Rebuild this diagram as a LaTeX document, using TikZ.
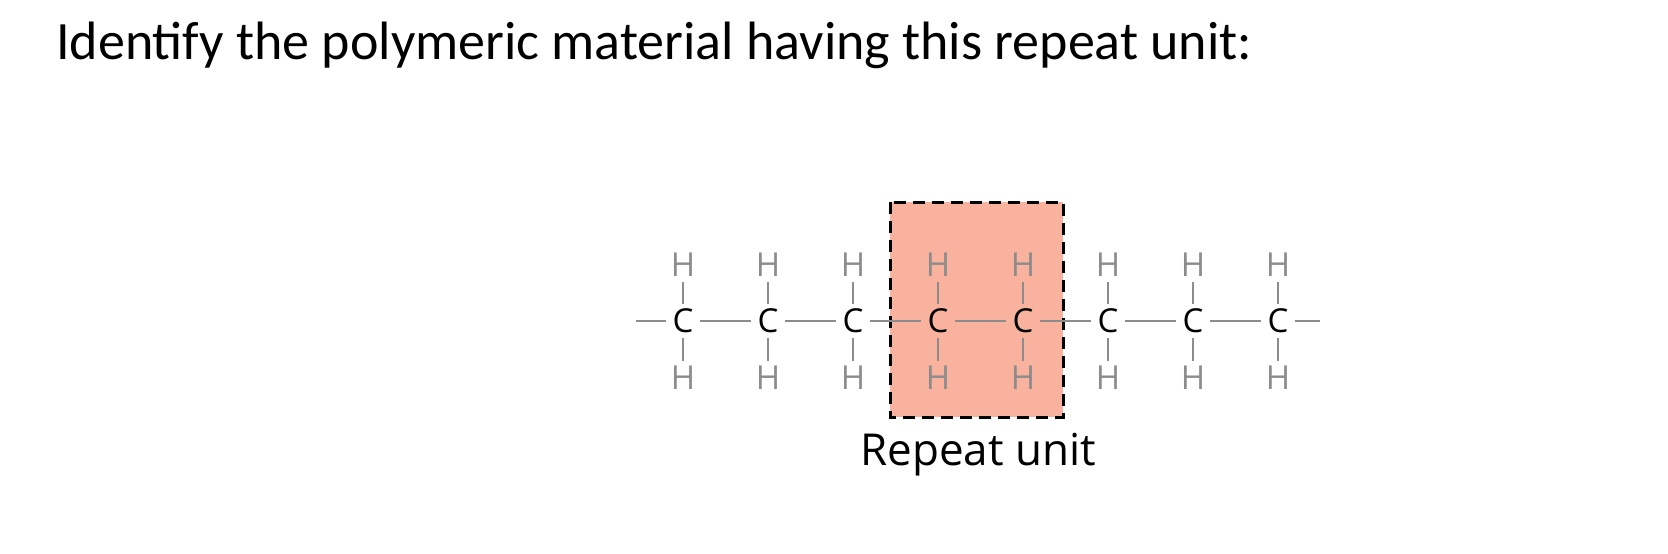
\documentclass[tikz,border=0pt]{standalone}
\usepackage{fontspec}
\setmainfont{Carlito}
\newfontfamily\chem{Open Sans}
\definecolor{hgray}{RGB}{140,140,140}
\definecolor{boxfill}{RGB}{248,178,158}
\begin{document}
\begin{tikzpicture}[x=1pt,y=-1pt,
  carb/.style={font=\chem\fontsize{33}{33}\selectfont,inner sep=0pt,text=black},
  hyd/.style={font=\chem\fontsize{33}{33}\selectfont,inner sep=0pt,text=hgray},
  bond/.style={hgray,line width=2.4pt}]
\useasboundingbox (0,0) rectangle (1668,554);
\node[anchor=west,font=\fontsize{54}{54}\selectfont,inner sep=0pt] (title) at (56,45) {Identify the polymeric material having this repeat unit:};
\fill[boxfill] (890,202) rectangle (1063,417);
\draw[line width=3pt,dash pattern=on 12pt off 7pt] (890,202) rectangle (1063,417);
\foreach \i in {1,...,8}{
  \pgfmathsetmacro\xx{683+85*(\i-1)}
  \node[carb] (c\i) at (\xx,321) {C};
  \node[hyd] (t\i) at (\xx,265) {H};
  \node[hyd] (b\i) at (\xx,378) {H};
  \draw[bond] ([yshift=5pt]c\i.north) -- ([yshift=-5pt]t\i.south);
  \draw[bond] ([yshift=-5pt]c\i.south) -- ([yshift=5pt]b\i.north);
}
\foreach \i [evaluate=\i as \j using int(\i+1)] in {1,...,7}{
  \draw[bond] ([xshift=6pt]c\i.east) -- ([xshift=-6pt]c\j.west);
}
\coordinate (le) at (636,321);
\coordinate (re) at (1320,321);
\draw[bond] (le) -- ([xshift=-6pt]c1.west);
\draw[bond] ([xshift=6pt]c8.east) -- (re);
\node[font=\chem\fontsize{44}{44}\selectfont,inner sep=0pt] (lbl) at (978,455) {Repeat unit};
\end{tikzpicture}
\end{document}
